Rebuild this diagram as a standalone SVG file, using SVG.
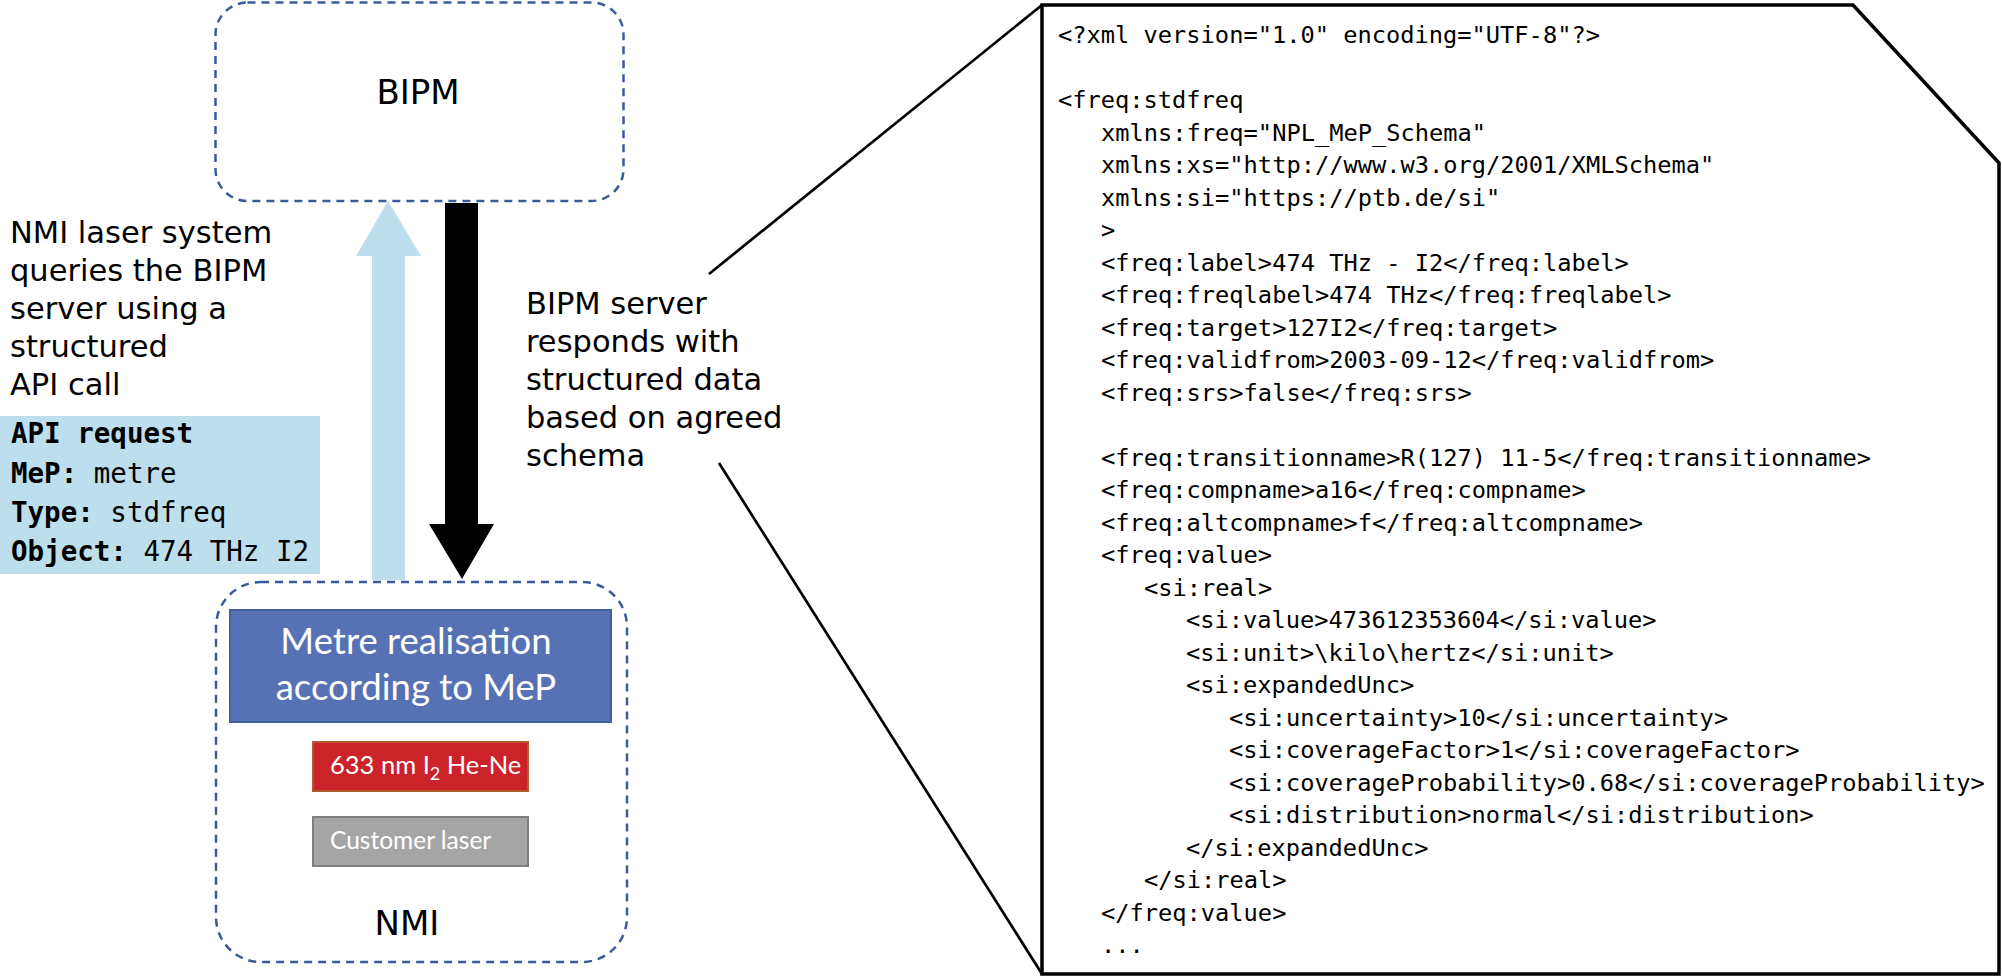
<svg xmlns="http://www.w3.org/2000/svg" width="2002" height="977" viewBox="0 0 2002 977">
<style>
.dash{fill:#fff;stroke:#3C5A99;stroke-width:2.5;stroke-dasharray:8 6}
.lbl{font-family:"DejaVu Sans",sans-serif;font-size:30.5px;fill:#000}
.big{font-family:"DejaVu Sans",sans-serif;font-size:34px;fill:#000}
.mono{font-family:"DejaVu Sans Mono",monospace;font-size:27.5px;fill:#000}
.xml{font-family:"DejaVu Sans Mono",monospace;font-size:23.7px;fill:#000}
.cal{font-family:Lato,sans-serif;fill:#fff}
.conn{stroke:#000;stroke-width:2.7;fill:none}
</style>
<rect width="2002" height="977" fill="#fff"/>

<g id="bipm">
<rect class="dash" x="215.5" y="2.5" width="408" height="198.5" rx="32" ry="32"/>
<text class="big" x="418" y="104" text-anchor="middle">BIPM</text>
</g>

<g id="nmi">
<rect class="dash" x="216" y="582" width="411" height="380" rx="45" ry="45"/>
<text class="big" x="407" y="935" text-anchor="middle">NMI</text>
</g>

<g id="metre-realisation">
<rect x="230" y="610" width="381" height="112" fill="#5672B4" stroke="#41609C" stroke-width="2"/>
<text class="cal" x="416" y="654" text-anchor="middle" font-size="36.5">Metre realisation</text>
<text class="cal" x="416" y="700" text-anchor="middle" font-size="36.5">according to MeP</text>
</g>

<g id="hene-laser">
<rect x="313" y="742" width="215" height="49" fill="#CC2229" stroke="#B05A30" stroke-width="2"/>
<text class="cal" x="330" y="774" font-size="25.5">633 nm I<tspan font-size="18" dy="6">2</tspan><tspan dy="-6"> He-Ne</tspan></text>
</g>

<g id="customer-laser">
<rect x="313" y="817" width="215" height="49" fill="#A5A5A5" stroke="#7F7F7F" stroke-width="2"/>
<text class="cal" x="330" y="849" font-size="24.5" fill="#F4F4F4">Customer laser</text>
</g>

<g id="api-request">
<rect x="0" y="416" width="320" height="158" fill="#BDDEEC"/>
<text class="mono" x="11" y="443" font-weight="bold">API request</text>
<text class="mono" x="11" y="483"><tspan font-weight="bold">MeP:</tspan> metre</text>
<text class="mono" x="11" y="522"><tspan font-weight="bold">Type:</tspan> stdfreq</text>
<text class="mono" x="11" y="561"><tspan font-weight="bold">Object:</tspan> 474 THz I2</text>
</g>

<g id="query-label">
<text class="lbl" x="10" y="243">NMI laser system</text>
<text class="lbl" x="10" y="281">queries the BIPM</text>
<text class="lbl" x="10" y="319">server using a</text>
<text class="lbl" x="10" y="357">structured</text>
<text class="lbl" x="10" y="395">API call</text>
</g>

<g id="response-label">
<text class="lbl" x="526" y="314">BIPM server</text>
<text class="lbl" x="526" y="352">responds with</text>
<text class="lbl" x="526" y="390">structured data</text>
<text class="lbl" x="526" y="428">based on agreed</text>
<text class="lbl" x="526" y="466">schema</text>
</g>

<g id="connectors">
<polygon points="372,580 372,256 356,256 388,201 421,256 405,256 405,580" fill="#BDDEEC"/>
<polygon points="445,203 478,203 478,524 494,524 462,579 429,524 445,524" fill="#000"/>
<line class="conn" x1="709" y1="274" x2="1042" y2="5"/>
<line class="conn" x1="719" y1="463" x2="1042" y2="974"/>
</g>

<g id="xml-document">
<polygon points="1042,5 1853,5 1999,163 1999,974 1042,974" fill="#fff" stroke="#000" stroke-width="3.5" stroke-linejoin="miter"/>
<text class="xml" x="1058" y="43">&lt;?xml version="1.0" encoding="UTF-8"?&gt;</text>
<text class="xml" x="1058" y="108">&lt;freq:stdfreq</text>
<text class="xml" x="1101" y="140.5">xmlns:freq="NPL_MeP_Schema"</text>
<text class="xml" x="1101" y="173">xmlns:xs="http://www.w3.org/2001/XMLSchema"</text>
<text class="xml" x="1101" y="205.5">xmlns:si="https://ptb.de/si"</text>
<text class="xml" x="1101" y="238">&gt;</text>
<text class="xml" x="1101" y="270.5">&lt;freq:label&gt;474 THz - I2&lt;/freq:label&gt;</text>
<text class="xml" x="1101" y="303">&lt;freq:freqlabel&gt;474 THz&lt;/freq:freqlabel&gt;</text>
<text class="xml" x="1101" y="335.5">&lt;freq:target&gt;127I2&lt;/freq:target&gt;</text>
<text class="xml" x="1101" y="368">&lt;freq:validfrom&gt;2003-09-12&lt;/freq:validfrom&gt;</text>
<text class="xml" x="1101" y="400.5">&lt;freq:srs&gt;false&lt;/freq:srs&gt;</text>
<text class="xml" x="1101" y="465.5">&lt;freq:transitionname&gt;R(127) 11-5&lt;/freq:transitionname&gt;</text>
<text class="xml" x="1101" y="498">&lt;freq:compname&gt;a16&lt;/freq:compname&gt;</text>
<text class="xml" x="1101" y="530.5">&lt;freq:altcompname&gt;f&lt;/freq:altcompname&gt;</text>
<text class="xml" x="1101" y="563">&lt;freq:value&gt;</text>
<text class="xml" x="1144" y="595.5">&lt;si:real&gt;</text>
<text class="xml" x="1186" y="628">&lt;si:value&gt;473612353604&lt;/si:value&gt;</text>
<text class="xml" x="1186" y="660.5">&lt;si:unit&gt;\kilo\hertz&lt;/si:unit&gt;</text>
<text class="xml" x="1186" y="693">&lt;si:expandedUnc&gt;</text>
<text class="xml" x="1229" y="725.5">&lt;si:uncertainty&gt;10&lt;/si:uncertainty&gt;</text>
<text class="xml" x="1229" y="758">&lt;si:coverageFactor&gt;1&lt;/si:coverageFactor&gt;</text>
<text class="xml" x="1229" y="790.5">&lt;si:coverageProbability&gt;0.68&lt;/si:coverageProbability&gt;</text>
<text class="xml" x="1229" y="823">&lt;si:distribution&gt;normal&lt;/si:distribution&gt;</text>
<text class="xml" x="1186" y="855.5">&lt;/si:expandedUnc&gt;</text>
<text class="xml" x="1144" y="888">&lt;/si:real&gt;</text>
<text class="xml" x="1101" y="920.5">&lt;/freq:value&gt;</text>
<text class="xml" x="1101" y="953">...</text>
</g>
</svg>
